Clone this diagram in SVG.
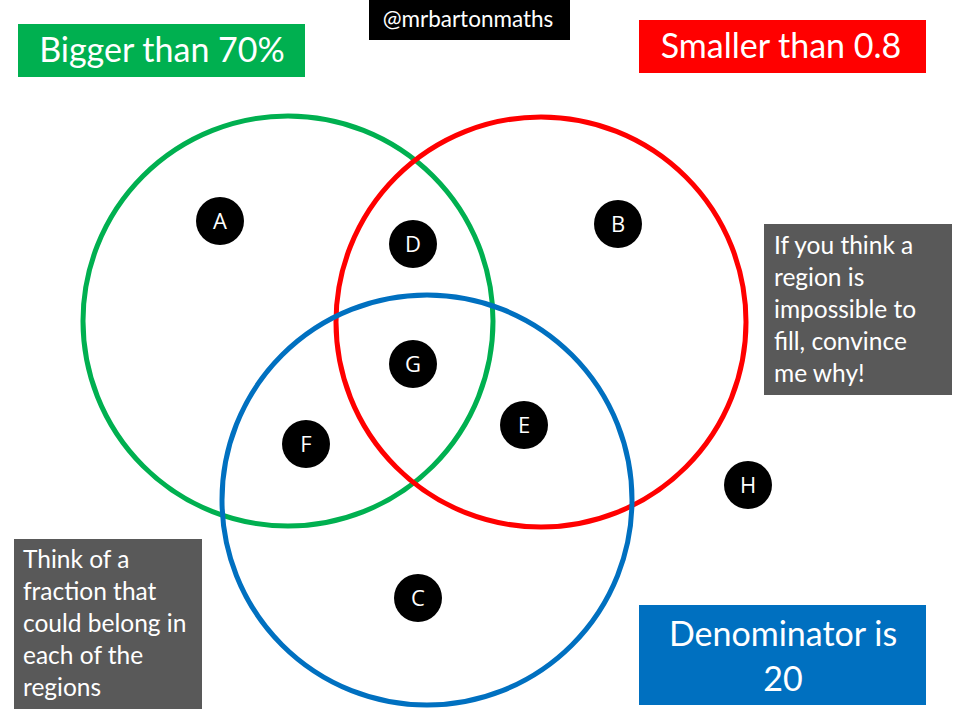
<svg xmlns="http://www.w3.org/2000/svg" width="960" height="720" viewBox="0 0 960 720">
<style>
.t{font-family:Lato,"Open Sans","Liberation Sans",sans-serif;fill:#fff}
.big{font-size:34px}
.note{font-size:24.5px}
.dot circle{fill:#000}
.dot text{font-family:"Open Sans","Liberation Sans",sans-serif;font-size:22px;fill:#fff;text-anchor:middle}
.ring{fill:none;stroke-width:5}
</style>
<rect width="960" height="720" fill="#fff"/>
<g id="tag"><rect x="369" y="0" width="201" height="40" fill="#000"/><text class="t" x="468" y="27" font-size="22.5" text-anchor="middle">@mrbartonmaths</text></g>
<g id="label-green"><rect x="18" y="24" width="287" height="53" fill="#00b050"/><text class="t big" x="162" y="62" text-anchor="middle">Bigger than 70%</text></g>
<g id="label-red"><rect x="639" y="20" width="287" height="53" fill="#ff0000"/><text class="t big" x="781" y="58" text-anchor="middle">Smaller than 0.8</text></g>
<g id="label-blue"><rect x="639" y="605" width="287" height="100" fill="#0070c0"/><text class="t big" x="783" y="646" text-anchor="middle">Denominator is</text><text class="t big" x="783" y="691" text-anchor="middle">20</text></g>
<g id="circles">
<circle class="ring" cx="288" cy="321" r="205" stroke="#00b050"/>
<circle class="ring" cx="541" cy="322" r="205" stroke="#ff0000"/>
<circle class="ring" cx="427" cy="500" r="205" stroke="#0070c0"/>
</g>
<g id="note-right"><rect x="764" y="224" width="188" height="171" fill="#595959"/>
<text class="t note" x="774" y="254">If you think a</text>
<text class="t note" x="774" y="286">region is</text>
<text class="t note" x="774" y="318">impossible to</text>
<text class="t note" x="774" y="350">fill, convince</text>
<text class="t note" x="774" y="382">me why!</text></g>
<g id="note-left"><rect x="14" y="539" width="188" height="170" fill="#595959"/>
<text class="t note" x="23" y="568">Think of a</text>
<text class="t note" x="23" y="600">fraction that</text>
<text class="t note" x="23" y="632">could belong in</text>
<text class="t note" x="23" y="664">each of the</text>
<text class="t note" x="23" y="696">regions</text></g>
<g id="A" class="dot"><circle cx="220" cy="221" r="24"/><text x="220" y="229">A</text></g>
<g id="B" class="dot"><circle cx="618" cy="224" r="24"/><text x="618" y="232">B</text></g>
<g id="D" class="dot"><circle cx="413" cy="244" r="24"/><text x="413" y="252">D</text></g>
<g id="G" class="dot"><circle cx="413" cy="364" r="24"/><text x="413" y="372">G</text></g>
<g id="E" class="dot"><circle cx="524" cy="425" r="24"/><text x="524" y="433">E</text></g>
<g id="F" class="dot"><circle cx="306" cy="444" r="24"/><text x="306" y="452">F</text></g>
<g id="C" class="dot"><circle cx="418" cy="598" r="24"/><text x="418" y="606">C</text></g>
<g id="H" class="dot"><circle cx="748" cy="485" r="24"/><text x="748" y="493">H</text></g>
</svg>
